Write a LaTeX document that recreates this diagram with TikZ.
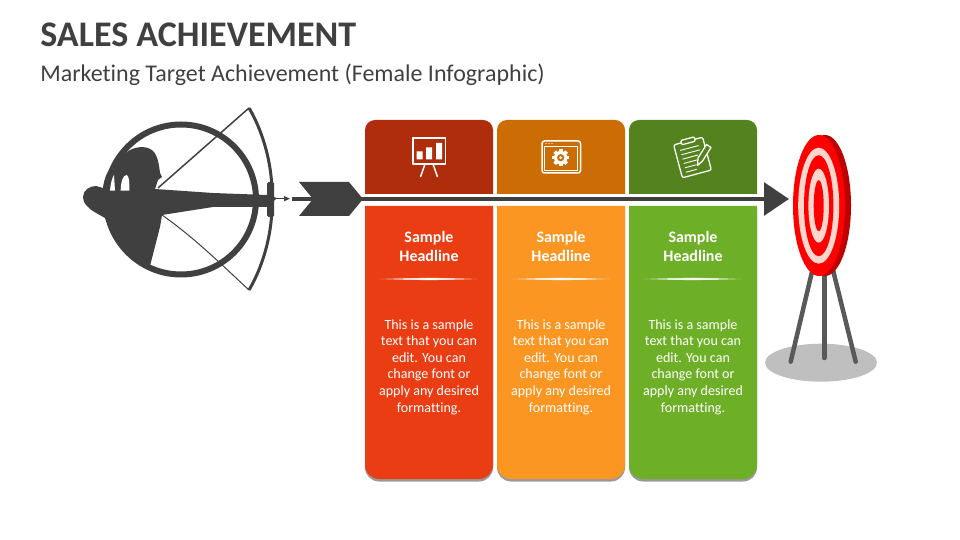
\documentclass[tikz,border=0pt]{standalone}
\usepackage{fontspec}
\setmainfont[Ligatures=NoCommon]{Carlito}
\usetikzlibrary{arrows.meta,shadows}
\definecolor{inkgray}{HTML}{404040}
\definecolor{legGray}{HTML}{595959}
\definecolor{ringPale}{HTML}{FFD5CC}
\definecolor{redTop}{HTML}{AF2C0D}
\definecolor{redLow}{HTML}{EA3D14}
\definecolor{orangeTop}{HTML}{CC6C04}
\definecolor{orangeLow}{HTML}{FB9623}
\definecolor{greenTop}{HTML}{54821F}
\definecolor{greenLow}{HTML}{6EAF28}
\tikzset{
  titletext/.style={anchor=base west,inner sep=0pt,text=inkgray,font=\fontsize{20.5}{24}\selectfont\bfseries},
  subtext/.style={anchor=base west,inner sep=0pt,text=inkgray,font=\fontsize{13.65}{16}\selectfont},
  headtext/.style={align=center,text=white,font=\fontsize{9.1}{10.8}\selectfont\bfseries},
  bodytext/.style={align=center,text=white,font=\fontsize{8}{9.45}\selectfont},
  icon/.style={draw=white,line width=0.03cm,line join=round},
  lowshadow/.style={drop shadow={shadow xshift=0cm,shadow yshift=-0.05cm,fill=black,opacity=0.4}},
}
\begin{document}
\begin{tikzpicture}[x=0.02cm,y=-0.02cm]
  \useasboundingbox (0,0) rectangle (960,540);
  \node [titletext] (title) at (40,47) {SALES ACHIEVEMENT};
  \node [subtext] (subtitle) at (40,82) {Marketing Target Achievement (Female Infographic)};

  % three columns
  \foreach \xa/\top/\low/\name in {365/redTop/redLow/a,497/orangeTop/orangeLow/b,629/greenTop/greenLow/c} {
    \fill [\top] (\xa,194) [rounded corners=0.2cm] -- (\xa,120) -- (\xa+128,120) [sharp corners] -- (\xa+128,194) -- cycle;
    \fill [\low,lowshadow] (\xa,206) -- (\xa+128,206) [rounded corners=0.28cm] -- (\xa+128,479) -- (\xa,479) [sharp corners] -- cycle;
    \node [headtext] (head\name) at (\xa+64,246.5) {Sample\\Headline};
    \shade [left color=\low!45!white,right color=\low!45!white,middle color=white]
      (\xa+15,279) .. controls (\xa+50,277.6) and (\xa+78,277.6) .. (\xa+113,279)
      .. controls (\xa+78,280.4) and (\xa+50,280.4) .. (\xa+15,279) -- cycle;
    \node [bodytext] (body\name) at (\xa+64,367) {This is a sample\\text that you can\\edit. You can\\change font or\\apply any desired\\formatting.};
  }

  % chart icon
  \draw [icon] (413,138) rectangle (445.5,164);
  \fill [white] (416.5,151.5) rectangle (422.5,159.5) (426,147.5) rectangle (432,159.5) (436,143) rectangle (442,159.5);
  \draw [icon] (425,164) -- (420.5,177) (433,164) -- (437.5,177);

  % gear icon
  \draw [icon,rounded corners=0.05cm] (542,141) rectangle (580.5,173);
  \draw [icon,line width=0.015cm] (544.5,146) rectangle (577.5,170.5);
  \foreach \xd in {546,549,552} \fill [white] (\xd,143.5) circle [radius=0.7];
  \foreach \ang in {0,45,...,315} \fill [white,shift={(560.7,157.7)},rotate=\ang] (-1.8,-8.5) rectangle (1.8,0);
  \fill [white] (560.7,157.7) circle [radius=6.7];
  \fill [orangeTop] (560.7,157.7) circle [radius=3.6];
  \fill [white] (560.7,157.7) circle [radius=1.6];

  % clipboard icon
  \begin{scope}[shift={(692.5,157.5)},rotate=15]
    \draw [icon,line width=0.025cm,rounded corners=0.04cm] (-15,-17) rectangle (15,17);
    \draw [icon,line width=0.025cm,fill=greenTop,rounded corners=0.02cm] (-7,-19.5) rectangle (7,-15);
    \foreach \yl/\xl in {-10/9,-5.5/9,-1/6,3.5/4,8/2,12.5/1} \draw [icon,line width=0.018cm] (-10,\yl) -- (\xl,\yl);
  \end{scope}
  \draw [icon,line width=0.025cm,fill=greenTop] (697.5,165.5) -- (698,158) -- (706.5,144.5) -- (711,147.5) -- (702.5,161) -- cycle;

  % target
  \fill [gray!50] (821,362.7) ellipse [x radius=56,y radius=19];
  \draw [legGray,line width=0.09cm,line cap=round] (811.7,273) -- (790.7,361.7);
  \draw [legGray,line width=0.09cm,line cap=round] (824.3,275) -- (824.3,358);
  \draw [legGray,line width=0.09cm,line cap=round] (833,270) -- (855.7,361.7);
  \fill [red!75!black] (825,205.5) ellipse [x radius=26,y radius=70.5];
  \fill [red] (819,205.5) ellipse [x radius=26,y radius=70.5];
  \fill [ringPale] (818.7,205.7) ellipse [x radius=20.5,y radius=58];
  \fill [red] (818.7,205.7) ellipse [x radius=14.7,y radius=50.5];
  \fill [ringPale] (818.7,205.7) ellipse [x radius=10.3,y radius=37];
  \fill [red] (818.7,205.7) ellipse [x radius=5,y radius=25.5];

  % archer
  \draw [inkgray,line width=0.12cm] (181,199.5) circle [radius=75];
  \draw [inkgray,line width=0.03cm] (158,188) -- (249,108);
  \draw [inkgray,line width=0.02cm] (162,215) .. controls (195,238) and (225,268) .. (249,290);
  \draw [inkgray,line width=0.06cm] (249,108) .. controls (265,135) and (273,170) .. (272,199)
    .. controls (273,228) and (265,263) .. (249,290);
  \fill [inkgray] (83,197) .. controls (83,190) and (90,186) .. (96,186) -- (103,188)
    .. controls (104,178) and (108,170) .. (113,165) .. controls (120,158) and (125,153) .. (130,150)
    .. controls (138,146) and (148,146) .. (153,151) .. controls (158,156) and (159,165) .. (160,173)
    -- (162,177) -- (158,180) -- (155,189) -- (213,193) -- (267,195) -- (277,198) -- (267,207)
    -- (213,207) -- (162,215) -- (160,227) -- (150,266) .. controls (135,258) and (120,245) .. (112,233)
    .. controls (109,228) and (107,222) .. (105,218) .. controls (98,214) and (90,210) .. (87,206)
    .. controls (84,203) and (83,200) .. (83,197) -- cycle;
  \fill [white] (120.7,190.7) .. controls (120.7,182) and (123,175) .. (126.5,175)
    .. controls (129,175) and (129.5,182) .. (129.3,190.7) -- cycle;
  \fill [white] (110,190.7) .. controls (110.5,184) and (112,178) .. (114,175) -- (115,190.7) -- cycle;
  \fill [inkgray,rounded corners=0.03cm] (267,182) rectangle (274,217);

  % arrow
  \coordinate (nockA) at (276,198.7);
  \coordinate (nockB) at (290,198.7);
  \coordinate (tailEnd) at (292,199);
  \coordinate (arrowTip) at (789,199);
  \draw [inkgray,line width=0.02cm,-{Triangle[length=0.12cm,width=0.1cm]}] (nockA) -- (nockB);
  \draw [inkgray,line width=0.09cm,-{Triangle[length=0.5cm,width=0.65cm]}] (tailEnd) -- (arrowTip);
  \fill [inkgray] (299,182) -- (349,182) -- (363,199) -- (349,216) -- (299,216) -- (313,199) -- cycle;
\end{tikzpicture}
\end{document}
